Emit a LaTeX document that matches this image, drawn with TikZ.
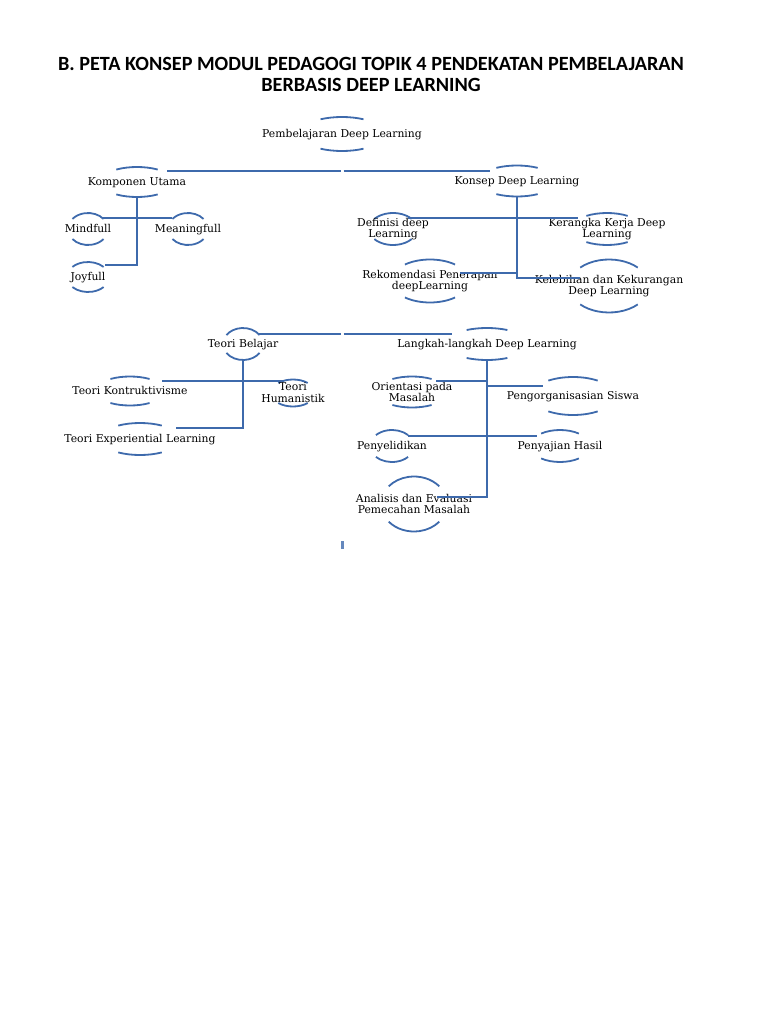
\documentclass[tikz,border=0pt]{standalone}
\usepackage{fontspec}
\setmainfont{DejaVu Serif}
\newfontfamily\titlefont{Carlito}
\usetikzlibrary{calc}
\definecolor{lineblue}{RGB}{62,106,172}

\begin{document}
\begin{tikzpicture}[
    x=1pt, y=1pt,
    txt/.style={font=\fontsize{10.8}{11.8}\selectfont, align=center, inner sep=0pt},
    oneline/.style={text height=7.5pt, text depth=0.5pt},
    arcline/.style={draw=lineblue, line width=1.8pt},
    lens/.style n args={3}{minimum width={2*#1pt+4pt}, minimum height={2*#2pt+4pt},
        path picture={
            \draw[arcline] ([shift={({90-#3}:#1pt and #2pt)}]path picture bounding box.center)
                arc[start angle={90-#3}, end angle={90+#3}, x radius=#1pt, y radius=#2pt];
            \draw[arcline] ([shift={({270-#3}:#1pt and #2pt)}]path picture bounding box.center)
                arc[start angle={270-#3}, end angle={270+#3}, x radius=#1pt, y radius=#2pt];
        }},
    link/.style={draw=lineblue, line width=1.8pt},
    trunk/.style={draw=lineblue, line width=2.6pt},
    title/.style={font=\titlefont\bfseries\fontsize{20.2}{21}\selectfont, align=center, inner sep=0pt}
]
\useasboundingbox (0,0) rectangle (768,-1024);

% Title
\node[title] (head) at (371,-74) {B. PETA KONSEP MODUL PEDAGOGI TOPIK 4 PENDEKATAN PEMBELAJARAN\\
    BERBASIS DEEP LEARNING};

% Root
\node[txt, oneline, lens={43}{17}{30}] (root) at (342,-134) {Pembelajaran Deep Learning};

% Komponen Utama
\node[txt, oneline, lens={37}{15}{34}] (komp) at (137,-182) {Komponen Utama};
\node[txt, oneline, lens={20}{16}{51}] (mind) at (88,-229) {Mindfull};
\node[txt, oneline, lens={20}{16}{51}] (mean) at (188,-229) {Meaningfull};
\node[txt, oneline, lens={21}{15}{48}] (joy) at (88,-277) {Joyfull};

% Konsep Deep Learning
\node[txt, oneline, lens={39}{15.5}{32}] (konsep) at (517,-181) {Konsep Deep Learning};
\node[txt, lens={24}{16}{51}] (defi) at (393,-229) {Definisi deep\\Learning};
\node[txt, lens={36}{16}{35}] (kerangka) at (607,-229) {Kerangka Kerja Deep\\Learning};
\node[txt, lens={39}{21.5}{40}] (rekom) at (430,-281) {Rekomendasi Penerapan\\deepLearning};
\node[txt, lens={40}{26.5}{46}] (lebih) at (609,-286) {Kelebihan dan Kekurangan\\Deep Learning};

% Teori Belajar
\node[txt, oneline, lens={20}{16}{56}] (teori) at (243,-344) {Teori Belajar};
\node[txt, oneline, lens={35}{14.5}{34}] (kontr) at (130,-391) {Teori Kontruktivisme};
\node[txt, lens={22}{13.5}{42}] (human) at (293,-393) {Teori\\Humanistik};
\node[txt, oneline, lens={40}{16}{33}] (exper) at (140,-439) {Teori Experiential Learning};

% Langkah-langkah Deep Learning
\node[txt, oneline, lens={42}{16}{29}] (langkah) at (487,-344) {Langkah-langkah Deep Learning};
\node[txt, lens={36}{15.5}{33}] (orient) at (412,-392) {Orientasi pada\\Masalah};
\node[txt, oneline, lens={42}{19}{36}] (organ) at (573,-396) {Pengorganisasian Siswa};
\node[txt, oneline, lens={22}{16}{47}] (selidik) at (392,-446) {Penyelidikan};
\node[txt, oneline, lens={30}{16}{39}] (saji) at (560,-446) {Penyajian Hasil};
\node[txt, lens={33}{27.5}{50}] (analisis) at (414,-504) {Analisis dan Evaluasi\\Pemecahan Masalah};

% Top row
\coordinate (mid1) at (342,-171);
\draw[link] ([xshift=-1.5pt]mid1) -- ($(mid1 -| komp.center)+(30,0)$);
\draw[link] ([xshift=1.5pt]mid1) -- ($(mid1 -| konsep.center)+(-27,0)$);

\draw[trunk] ([yshift=-15pt]komp.center) |- ([shift={(17pt,12pt)}]joy.center);
\draw[link] ([shift={(15pt,11pt)}]mind.center) -- ([shift={(-16pt,11pt)}]mean.center);

\draw[trunk] ([yshift=-16pt]konsep.center) |- ([shift={(-29pt,8pt)}]lebih.center);
\draw[link] ([shift={(15pt,11pt)}]defi.center) -- ([shift={(-29pt,11pt)}]kerangka.center);
\coordinate (rk) at ([shift={(30pt,8pt)}]rekom.center);
\draw[trunk] (rk) -- (rk -| konsep.center);

% Second row
\coordinate (mid2) at (342,-334);
\draw[link] ([xshift=-1.5pt]mid2) -- ($(mid2 -| teori.center)+(15,0)$);
\draw[link] ([xshift=1.5pt]mid2) -- ($(mid2 -| langkah.center)+(-35,0)$);

\draw[trunk] ([yshift=-16pt]teori.center) |- ([shift={(36pt,11pt)}]exper.center);
\draw[link] ([shift={(32pt,10pt)}]kontr.center) -- ([shift={(-10pt,12pt)}]human.center);

\draw[trunk] ([yshift=-16pt]langkah.center) |- ([shift={(23pt,7pt)}]analisis.center);
\coordinate (or) at ([shift={(24pt,11pt)}]orient.center);
\draw[link] (or) -- (or -| langkah.center);
\coordinate (og) at ([shift={(-30pt,10pt)}]organ.center);
\draw[link] (og -| langkah.center) -- (og);
\draw[link] ([shift={(16pt,10pt)}]selidik.center) -- ([shift={(-23pt,10pt)}]saji.center);

% stray mark
\fill[lineblue!80] (341,-541) rectangle (344,-549);

\end{tikzpicture}
\end{document}
